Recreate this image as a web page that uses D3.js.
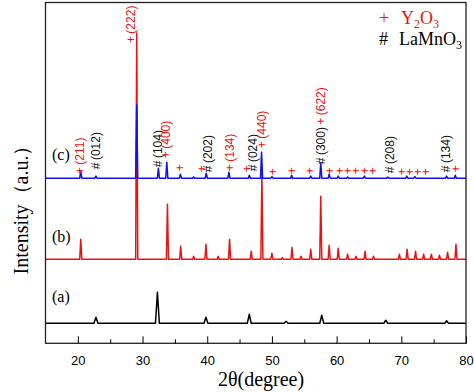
<!DOCTYPE html>
<html>
<head>
<meta charset="utf-8">
<style>
  body { margin: 0; background: #fff; }
  .axis text { font: 13px Arial, "Liberation Sans", sans-serif; fill: #000; }
  .axis line { stroke: #000; }
  .axis path { display: none; }
  .serif { font-family: "Times New Roman", "Liberation Serif", serif; }
  .lbl { font: 12px Arial, "Liberation Sans", sans-serif; }
</style>
</head>
<body>
<script src="https://cdnjs.cloudflare.com/ajax/libs/d3/7.8.5/d3.min.js"></script>
<script>
// peak positions (2θ) and heights for each pattern
var peaksA = [22.8, 32.3, 39.8, 46.5, 52.2, 57.7, 67.6, 77.0];
var heightsA = [6, 31, 6, 9, 2, 8, 3, 2.5];

var peaksB = [20.45, 29.1, 33.85, 35.9, 37.9, 39.8, 41.7, 43.45, 46.8, 48.45, 50.0, 51.6, 53.1, 54.5, 56.0, 57.55,
              58.85, 60.25, 61.7, 63.0, 64.4, 65.7, 69.7, 70.9, 72.2, 73.45, 74.65, 75.9, 77.15, 78.45];
var heightsB = [20, 226, 55, 13, 3, 15, 3, 20, 8, 86, 6, 1.5, 12, 3, 10, 63,
                14, 11, 5, 3, 8, 3, 5, 10, 8, 5, 5, 4, 7, 15];

var peaksC = [20.45, 22.8, 29.1, 32.45, 33.75, 35.85, 37.9, 39.85, 43.35, 46.5, 48.4, 50.0, 53.05, 56.0, 57.55,
              58.85, 60.25, 61.7, 64.3, 67.9, 70.85, 72.1, 77.0, 78.35];
var heightsC = [7, 2, 73, 10, 16, 4, 1, 5, 6, 3, 26, 1.5, 3, 2, 15,
                4, 2, 1, 2, 1, 2, 1.5, 2, 3];

var offsets = {a: 20, b: 84, c: 165};
var xTicks = [20, 30, 40, 50, 60, 70, 80];
var xMinor = [25, 35, 45, 55, 65, 75];

// peak annotations on pattern (c): 2θ, lift above baseline, text pieces [text, phase]
var labels = [
  [20.35, 4, [["+\u2009(211)", "Y"]]],
  [22.8, 9, [["#\u2009(012)", "L"]]],
  [28.2, 135, [["+\u2009(222)", "Y"]]],
  [32.4, 11, [["#\u2009(104)", "L"]]],
  [33.65, 20, [["+\u2009(400)", "Y"]]],
  [35.8, 7, [["+", "Y"]]],
  [39.07, 6, [["+", "Y"]]],
  [40.0, 6, [["#\u2009(202)", "L"]]],
  [43.4, 7, [["+\u2009(134)", "Y"]]],
  [46.15, 6, [["+", "Y"]]],
  [46.97, 7, [["#\u2009(024)", "L"]]],
  [48.47, 30, [["+\u2009(440)", "Y"]]],
  [50.17, 3, [["+", "Y"]]],
  [53.1, 4, [["+", "Y"]]],
  [55.9, 4, [["+", "Y"]]],
  [57.5, 14, [["#\u2009(300)\u2009", "L"], ["+\u2009(622)", "Y"]]],
  [58.93, 4, [["+", "Y"]]],
  [60.43, 4, [["+", "Y"]]],
  [61.72, 4, [["+", "Y"]]],
  [63.02, 4, [["+", "Y"]]],
  [64.35, 4, [["+", "Y"]]],
  [65.65, 4, [["+", "Y"]]],
  [68.17, 5, [["#\u2009(208)", "L"]]],
  [70.0, 3, [["+", "Y"]]],
  [71.3, 3, [["+", "Y"]]],
  [72.55, 3, [["+", "Y"]]],
  [73.8, 3, [["+", "Y"]]],
  [76.85, 6, [["#\u2009(134)", "L"]]],
  [78.4, 6, [["+", "Y"]]]
];

var W = 474, H = 392;
var box = {left: 45.5, right: 466, top: 2.5, bottom: 343.3};

var x = d3.scaleLinear().domain([15, 80]).range([box.left, box.right]);
var y = d3.scaleLinear().domain([0, 340]).range([box.bottom, box.top + 0.5]);

var svg = d3.select("body").append("svg")
  .attr("width", W).attr("height", H);

// turn a peak list into a line: flat baseline with narrow triangular peaks
function pattern(pos, hts, off, w) {
  var pts = [[15, off]];
  pos.forEach(function(p, i) {
    pts.push([p - w, off], [p, off + hts[i]], [p + w, off]);
  });
  pts.push([80, off]);
  return pts;
}

var line = d3.line().x(function(d) { return x(d[0]); }).y(function(d) { return y(d[1]); });

var series = [
  {pts: pattern(peaksA, heightsA, offsets.a, 0.3), color: "#000"},
  {pts: pattern(peaksB, heightsB, offsets.b, 0.16), color: "#ee1111"},
  {pts: pattern(peaksC, heightsC, offsets.c, 0.16), color: "#1010ee"}
];

svg.selectAll("path.xrd")
  .data(series)
  .enter().append("path")
  .attr("class", "xrd")
  .attr("d", function(d) { return line(d.pts); })
  .attr("fill", "none")
  .attr("stroke", function(d) { return d.color; })
  .attr("stroke-width", 1.5)
  .attr("stroke-linejoin", "round");

// frame
svg.append("rect")
  .attr("x", box.left).attr("y", box.top)
  .attr("width", box.right - box.left).attr("height", box.bottom - box.top)
  .attr("fill", "none").attr("stroke", "#222").attr("stroke-width", 1.3);

// x axis, ticks pointing inward
svg.append("g")
  .attr("class", "axis")
  .attr("transform", "translate(0," + box.bottom + ")")
  .call(d3.axisBottom(x).tickValues(xTicks).tickSizeInner(-7).tickSizeOuter(0).tickPadding(12))
  .selectAll("text").attr("dy", "0.71em");

svg.append("g")
  .attr("class", "axis")
  .attr("transform", "translate(0," + box.bottom + ")")
  .call(d3.axisBottom(x).tickValues(xMinor).tickSizeInner(-4).tickSizeOuter(0).tickFormat(""));

// annotations
var phaseColor = {Y: "#ee1111", L: "#111"};
labels.forEach(function(l) {
  var t = svg.append("text")
    .attr("class", "lbl")
    .attr("transform", "translate(" + x(l[0]) + "," + y(offsets.c + l[1]) + ") rotate(-90)")
    .attr("dy", "0.36em");
  l[2].forEach(function(p) {
    t.append("tspan").attr("fill", phaseColor[p[1]]).text(p[0]);
  });
});

// sample labels
[["(c)", 160], ["(b)", 242], ["(a)", 302]].forEach(function(s) {
  svg.append("text").attr("class", "serif")
    .attr("x", 52).attr("y", s[1])
    .attr("font-size", 16)
    .text(s[0]);
});

// legend
var legend = svg.append("g").attr("class", "serif").attr("font-size", 18);
legend.append("text").attr("x", 379).attr("y", 24).attr("fill", "#ee1111").text("+");
var lg1 = legend.append("text").attr("x", 401).attr("y", 24).attr("fill", "#ee1111");
lg1.append("tspan").text("Y");
lg1.append("tspan").attr("font-size", 12).attr("dy", 4).text("2");
lg1.append("tspan").attr("dy", -4).text("O");
lg1.append("tspan").attr("font-size", 12).attr("dy", 4).text("3");

legend.append("text").attr("x", 379).attr("y", 45).attr("fill", "#000").text("#");
var lg2 = legend.append("text").attr("x", 399).attr("y", 45).attr("fill", "#000");
lg2.append("tspan").text("LaMnO");
lg2.append("tspan").attr("font-size", 12).attr("dy", 4).text("3");

// axis titles
svg.append("text").attr("class", "serif")
  .attr("font-size", 20)
  .attr("text-anchor", "middle")
  .attr("x", 261).attr("y", 386)
  .text("2θ(degree)");

svg.append("text").attr("class", "serif")
  .attr("font-size", 20)
  .attr("text-anchor", "middle")
  .attr("transform", "translate(28,205) rotate(-90)")
  .text("Intensity（a.u.）");
</script>
</body>
</html>
